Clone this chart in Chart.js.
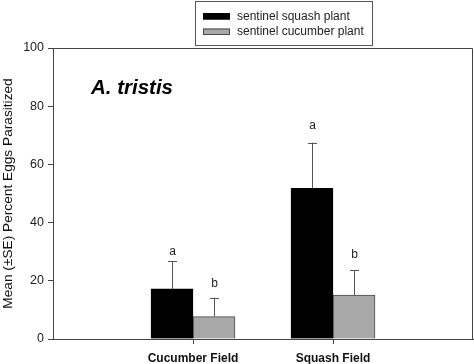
<!DOCTYPE html>
<html>
<head>
<meta charset="utf-8">
<script src="https://cdn.jsdelivr.net/npm/chart.js@4.4.0/dist/chart.umd.min.js"></script>
<style>
  html, body { margin: 0; padding: 0; background: #fff; }
  #wrap { width: 474px; height: 364px; }
</style>
</head>
<body>
<div id="wrap"><canvas id="chart" width="474" height="364"></canvas></div>
<script>
const categories = ['', 'Cucumber Field', 'Squash Field', ''];
const squashPlant = [null, 17.2, 51.8, null];
const squashPlantSE = [null, 9.5, 15.7, null];
const cucumberPlant = [null, 7.7, 15.1, null];
const cucumberPlantSE = [null, 6.5, 8.6, null];
// significance letters and the value where each letter sits
const squashLetters = [null, 'a', 'a', null];
const squashLetterY = [null, 28.9, 72.2, null];
const cucumberLetters = [null, 'b', 'b', null];
const cucumberLetterY = [null, 18.0, 27.7, null];
const yTicks = [0, 20, 40, 60, 80, 100];

const FONT = "'Liberation Sans', Arial, sans-serif";
const AXIS = '#444';

const data = {
    labels: categories,
    datasets: [
        {
            label: 'sentinel squash plant',
            data: squashPlant,
            se: squashPlantSE,
            letters: squashLetters,
            letterY: squashLetterY,
            backgroundColor: '#000',
            borderColor: '#000',
            borderWidth: 1,
        },
        {
            label: 'sentinel cucumber plant',
            data: cucumberPlant,
            se: cucumberPlantSE,
            letters: cucumberLetters,
            letterY: cucumberLetterY,
            backgroundColor: '#a8a8a8',
            borderColor: '#4a4a4a',
            borderWidth: 1,
        }
    ]
}

// error bars (upper only) + letters above them
const errorBars = {
    id: 'errorBars',
    afterDatasetsDraw(chart) {
        const ctx = chart.ctx;
        const y = chart.scales.y;
        ctx.save();
        chart.data.datasets.forEach((ds, di) => {
            const meta = chart.getDatasetMeta(di);
            meta.data.forEach((bar, i) => {
                if (ds.data[i] == null) return;
                const top = y.getPixelForValue(ds.data[i] + ds.se[i]);
                const x = Math.round(bar.x) + 0.5;
                ctx.strokeStyle = '#555';
                ctx.lineWidth = 1;
                ctx.beginPath();
                ctx.moveTo(x, bar.y);
                ctx.lineTo(x, top);
                ctx.moveTo(x - 4.5, Math.round(top) + 0.5);
                ctx.lineTo(x + 4.5, Math.round(top) + 0.5);
                ctx.stroke();

                ctx.fillStyle = '#222';
                ctx.font = '12px ' + FONT;
                ctx.textAlign = 'center';
                ctx.textBaseline = 'alphabetic';
                ctx.fillText(ds.letters[i], x, y.getPixelForValue(ds.letterY[i]));
            });
        });
        ctx.restore();
    }
};

// top/right frame, boxed legend, species title
const frame = {
    id: 'frame',
    afterDraw(chart) {
        const ctx = chart.ctx;
        const a = chart.chartArea;
        ctx.save();
        ctx.strokeStyle = AXIS;
        ctx.lineWidth = 1;
        ctx.beginPath();
        ctx.moveTo(a.left, Math.round(a.top) + 0.5);
        ctx.lineTo(Math.round(a.right) - 0.5, Math.round(a.top) + 0.5);
        ctx.lineTo(Math.round(a.right) - 0.5, a.bottom);
        ctx.stroke();

        // legend box
        ctx.fillStyle = '#fff';
        ctx.fillRect(195.5, 1.5, 177, 44);
        ctx.strokeStyle = '#555';
        ctx.strokeRect(195.5, 1.5, 177, 44);
        chart.data.datasets.forEach((ds, i) => {
            const yy = 13 + i * 15.5;
            ctx.fillStyle = ds.backgroundColor;
            ctx.fillRect(203, yy, 27, 6.5);
            ctx.strokeStyle = ds.borderColor;
            ctx.strokeRect(203.5, yy + 0.5, 26, 5.5);
            ctx.fillStyle = '#222';
            ctx.font = '12px ' + FONT;
            ctx.textAlign = 'left';
            ctx.textBaseline = 'middle';
            ctx.fillText(ds.label, 237, yy + 3.5);
        });

        ctx.fillStyle = '#000';
        ctx.font = 'italic bold 20.5px ' + FONT;
        ctx.textAlign = 'left';
        ctx.textBaseline = 'middle';
        ctx.fillText('A. tristis', 91, 88);
        ctx.restore();
    }
};

const config = {
    type: 'bar',
    data: data,
    plugins: [errorBars, frame],
    options: {
        responsive: false,
        animation: false,
        layout: { padding: { top: 48, right: 1, left: 0, bottom: 0 } },
        barThickness: 42,
        plugins: {
            legend: { display: false },
            tooltip: { enabled: false },
        },
        scales: {
            x: {
                offset: false,
                grid: {
                    offset: false,
                    drawOnChartArea: false,
                    drawTicks: true,
                    tickLength: 5,
                    color: c => (c.index === 1 || c.index === 2) ? AXIS : 'rgba(0,0,0,0)',
                },
                border: { display: true, color: AXIS },
                ticks: {
                    color: '#111',
                    font: { family: FONT, size: 12, weight: 'bold' },
                    padding: 7,
                    maxRotation: 0,
                    autoSkip: false,
                },
                afterFit: s => {
                    s.height = 25;
                    s.paddingLeft = 0;
                    s.paddingRight = 0;
                },
            },
            y: {
                min: 0,
                max: 100,
                afterBuildTicks: s => { s.ticks = yTicks.map(v => ({ value: v })); },
                grid: {
                    drawOnChartArea: false,
                    drawTicks: true,
                    tickLength: 5,
                    color: AXIS,
                },
                border: { display: true, color: AXIS },
                ticks: {
                    color: '#222',
                    font: { family: FONT, size: 12.5 },
                    padding: 4,
                },
                title: {
                    display: true,
                    text: 'Mean (±SE) Percent Eggs Parasitized',
                    color: '#111',
                    font: { family: FONT, size: 13.7 },
                    padding: 0,
                },
                afterFit: s => {
                    s.width = 53;
                    s.paddingTop = 0;
                    s.paddingBottom = 0;
                },
            },
        },
    },
};

let myChart = new Chart(document.getElementById('chart'), config);
</script>
</body>
</html>
